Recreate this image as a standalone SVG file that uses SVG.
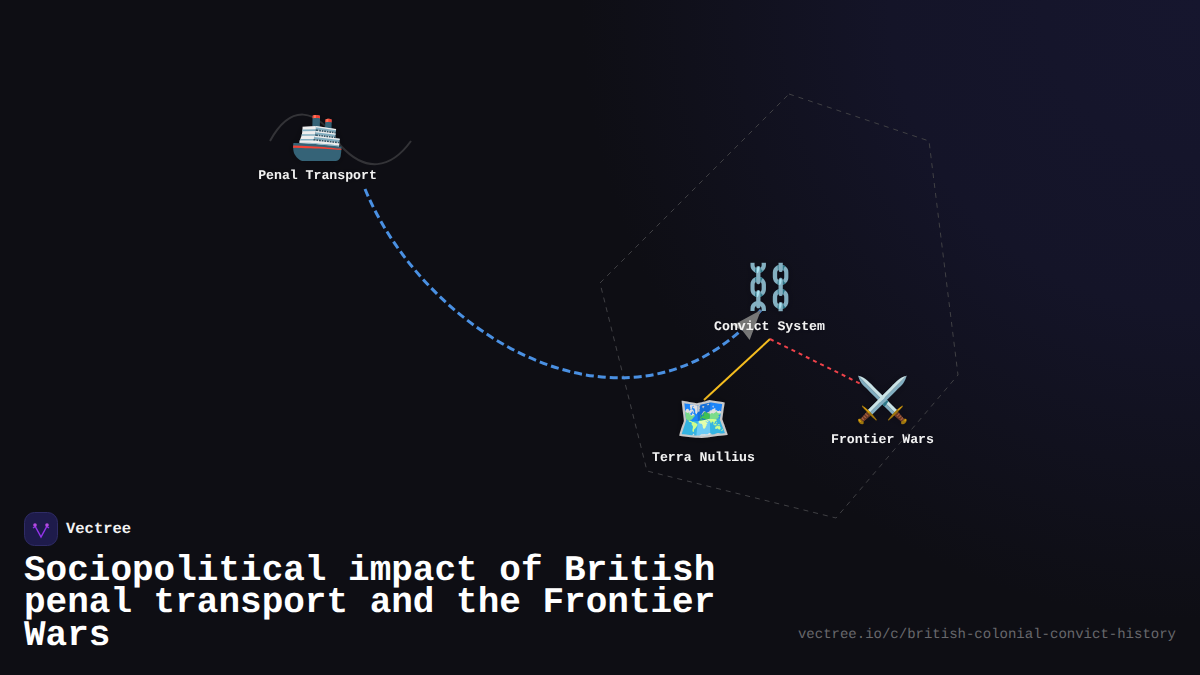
<svg xmlns="http://www.w3.org/2000/svg" width="1200" height="675" viewBox="0 0 1200 675">
<defs>
<radialGradient id="g2" gradientUnits="userSpaceOnUse" cx="1200" cy="0" r="620">
<stop offset="0" stop-color="#16162e"/><stop offset="0.5" stop-color="#141428"/><stop offset="1" stop-color="#0e0e14"/>
</radialGradient>
<marker id="arrow" markerUnits="userSpaceOnUse" markerWidth="30" markerHeight="24" refX="27" refY="10" orient="auto" viewBox="0 0 27 20"><path d="M0 0L27 10L0 20L2 10Z" fill="#7a7a7a"/></marker>
<filter id="halo" x="-20%" y="-20%" width="140%" height="140%"><feDropShadow dx="0" dy="0" stdDeviation="5" flood-color="#000" flood-opacity="0.25"/></filter>
</defs>
<style>
text{text-rendering:geometricPrecision}
.label{font-family:"Liberation Mono",monospace;font-weight:700;font-size:13.2px;fill:#f2f2f2;text-anchor:middle}
.emoji{font-family:"Noto Color Emoji",sans-serif;font-size:44px;text-anchor:middle}
.title{font-family:"Liberation Mono",monospace;font-weight:700;font-size:36px;fill:#fff}
.node{filter:url(#halo)}
</style>
<rect width="1200" height="675" fill="#0e0e14"/>
<rect x="580" width="620" height="620" fill="url(#g2)"/>
<path d="M789 94L929 141L958 375L836 518L647 471L600 283Z" fill="none" stroke="#404044" stroke-width="1" stroke-dasharray="5 5"/>
<path d="M270 141C290 105 315 105 341 146C365 172 390 170 411 141" fill="none" stroke="#333337" stroke-width="2"/>
<g id="connectors" fill="none">
<path d="M365 189C425 335 630 460 761 310" stroke="#4a90e2" stroke-width="3" stroke-dasharray="8 4" marker-end="url(#arrow)"/>
<path d="M770 339L704 400" stroke="#f5bd1f" stroke-width="2"/>
<path d="M770 339L861 384" stroke="#f0424a" stroke-width="2" stroke-dasharray="4 4"/>
</g>
<g id="node-penal-transport" class="node"><text class="emoji" x="318" y="152">🚢</text><text class="label" x="317.500" y="179">Penal Transport</text></g>
<g id="node-convict-system" class="node"><text class="emoji" x="770" y="302">⛓️</text><text class="label" x="769.500" y="330">Convict System</text></g>
<g id="node-terra-nullius" class="node"><text class="emoji" x="704" y="434">🗺️</text><text class="label" x="703.500" y="461">Terra Nullius</text></g>
<g id="node-frontier-wars" class="node"><text class="emoji" x="883" y="415">⚔️</text><text class="label" x="882.500" y="443">Frontier Wars</text></g>
<g id="brand">
<rect x="24.500" y="512.500" width="33" height="33" rx="10" fill="#1e1b4b" stroke="#2f2c66"/>
<path d="M35 526L41 537L47 526M33 528L36 526M49 528L46 526" fill="none" stroke="#9333ea" stroke-width="1.500"/>
<circle cx="35" cy="525" r="1.800" fill="#b44be0"/><circle cx="47" cy="525" r="1.800" fill="#b44be0"/>
<text x="66" y="533" font-family="Liberation Mono, monospace" font-weight="700" font-size="15.500" fill="#f2f2f2">Vectree</text>
</g>
<g id="title">
<text class="title" x="24" y="580">Sociopolitical impact of British</text>
<text class="title" x="24" y="612">penal transport and the Frontier</text>
<text class="title" x="24" y="645">Wars</text>
</g>
<text x="1176" y="638" text-anchor="end" font-family="Liberation Mono, monospace" font-size="14" fill="#68686c">vectree.io/c/british-colonial-convict-history</text>
</svg>
